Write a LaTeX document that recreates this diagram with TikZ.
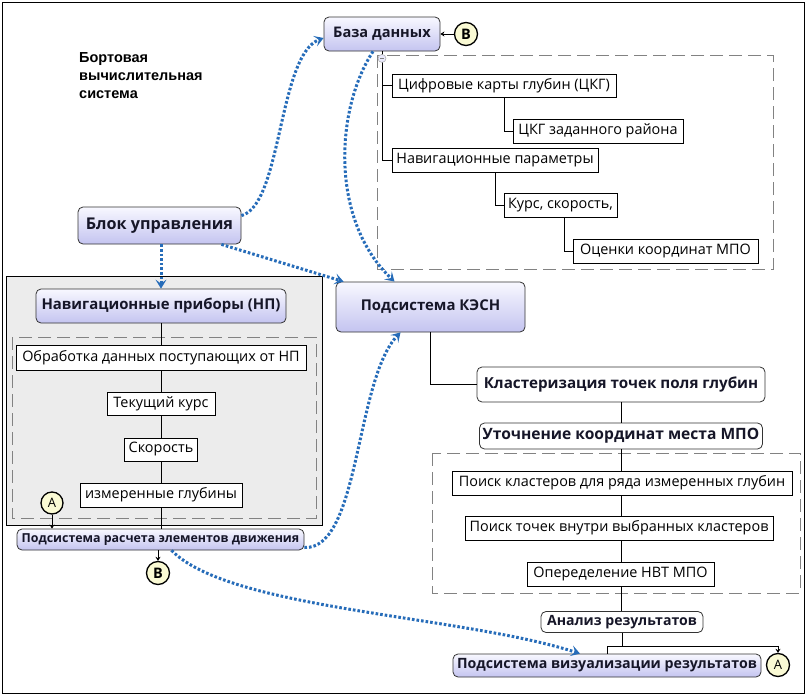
\documentclass[tikz,border=0pt]{standalone}
\usepackage{fontspec}
\setmainfont{Open Sans}
\newfontfamily\labfont{Liberation Sans}
\usetikzlibrary{arrows.meta,calc}
\definecolor{dotblue}{RGB}{38,108,185}
\definecolor{gradtop}{RGB}{248,248,255}
\definecolor{gradbot}{RGB}{196,196,240}
\definecolor{panelgrey}{RGB}{236,236,236}
\definecolor{circfill}{RGB}{250,250,212}
\definecolor{dashgrey}{RGB}{130,130,130}
\definecolor{headtxt}{RGB}{22,22,40}
\newcommand{\leaffont}{\fontsize{14.4}{16}\selectfont}
\begin{document}
\begin{tikzpicture}[x=1pt,y=-1pt,
  leaf/.style={draw=black, line width=0.7pt, fill=white, inner sep=0pt, font=\leaffont},
  hf/.style={font=\bfseries\fontsize{#1}{17}\selectfont},
  head/.style={draw=black!80, line width=0.8pt, rounded corners=5pt, top color=gradtop, bottom color=gradbot, inner sep=0pt, hf=15, text=headtxt},
  whead/.style={draw=black!80, line width=0.8pt, rounded corners=5pt, fill=white, inner sep=0pt, hf=15, text=headtxt},
  circ/.style={circle, draw=black, line width=1.3pt, fill=circfill, minimum size=23pt, inner sep=0pt},
  dotarrow/.style={draw=dotblue, line width=3pt, dash pattern=on 2.6pt off 2pt, -{Stealth[length=9pt,width=11pt,inset=4pt]}},
  tree/.style={draw=black, line width=0.7pt},
  dashbox/.style={draw=dashgrey, line width=0.8pt, dash pattern=on 13pt off 6pt},
  smallarrow/.style={draw=black, line width=0.8pt, -{Stealth[length=4pt,width=5pt]}}
]
\useasboundingbox (0,0) rectangle (807,696);
\fill[white] (0,0) rectangle (807,696);
% outer frame
\draw[line width=1pt] (2,2) rectangle (804,693);
% containers
\draw[line width=0.9pt, fill=panelgrey] (6,276) rectangle (322,525);
\draw[dashbox] (12,337) rectangle (316,518);
\draw[dashbox] (377,55) rectangle (773,269);
\draw[dashbox] (432,453) rectangle (800,593);

% title text
\node[anchor=north west, inner sep=0pt, align=left, font=\labfont\bfseries\fontsize{14.5}{18}\selectfont] (title) at (79,52) {Бортовая\\вычислительная\\система};

% database part
\node[head, hf=14.6, minimum width=116pt, minimum height=34pt] (db) at (382,34) {База данных};
\node[circ, font=\bfseries\fontsize{14.5}{15}\selectfont] (bTop) at (466,34) {B};
\node[leaf, minimum width=224pt, minimum height=23pt] (cfk) at (504,85.5) {Цифровые карты глубин (ЦКГ)};
\node[leaf, minimum width=170pt, minimum height=24pt] (cfkr) at (598,131) {ЦКГ заданного района};
\node[leaf, minimum width=206pt, minimum height=24pt] (nav) at (495,160) {Навигационные параметры};
\node[leaf, minimum width=113pt, minimum height=24pt] (kurs) at (560.5,205) {Курс, скорость,};
\node[leaf, minimum width=185pt, minimum height=24pt] (ocen) at (665.5,251) {Оценки координат МПО};

% control block
\node[head, hf=16.2, minimum width=163pt, minimum height=37pt] (blok) at (159.5,225.5) {Блок управления};

% left panel
\node[head, hf=14.9, minimum width=250pt, minimum height=34pt] (np) at (161,306) {Навигационные приборы (НП)};
\node[leaf, minimum width=290pt, minimum height=25pt] (obr) at (161,357.5) {Обработка данных поступающих от НП};
\node[leaf, minimum width=108pt, minimum height=23pt] (tek) at (161,403.5) {Текущий курс};
\node[leaf, minimum width=73pt, minimum height=23pt] (skor) at (161,449.5) {Скорость};
\node[leaf, minimum width=162pt, minimum height=24pt] (izm) at (161,495) {измеренные глубины};
\node[head, hf=12.4, minimum width=287pt, minimum height=21pt] (rasch) at (160.5,539.5) {Подсистема расчета элементов движения};
\node[circ, minimum size=22pt, font=\fontsize{13}{14}\selectfont] (aLeft) at (52,503) {A};
\node[circ, font=\bfseries\fontsize{14.5}{15}\selectfont] (bBot) at (158,573) {B};

% KESN part
\node[head, hf=14.9, minimum width=189pt, minimum height=50pt] (kesn) at (430.5,307) {Подсистема КЭСН};
\node[whead, hf=15.2, minimum width=288pt, minimum height=35pt] (klast) at (621,384.5) {Кластеризация точек поля глубин};
\node[whead, hf=15.6, minimum width=283pt, minimum height=26pt] (utoch) at (621,436) {Уточнение координат места МПО};
\node[leaf, minimum width=340pt, minimum height=24pt] (poiskA) at (622,483) {Поиск кластеров для ряда измеренных глубин};
\node[leaf, minimum width=308pt, minimum height=24pt] (poiskB) at (619,528) {Поиск точек внутри выбранных кластеров};
\node[leaf, minimum width=187pt, minimum height=24pt] (opred) at (620.5,574) {Опеределение НВТ МПО};
\node[whead, hf=14.1, minimum width=162pt, minimum height=21pt] (analiz) at (622,622) {Анализ результатов};
\node[head, hf=14.2, minimum width=308pt, minimum height=23pt] (viz) at (607,665.5) {Подсистема визуализации результатов};
\node[circ, font=\fontsize{13}{14}\selectfont] (aRight) at (778,665) {A};

% collapse button under database
\draw[tree] (db.south) -- (db.south |- nav.west) -- (nav.west);
\draw[tree] (db.south |- cfk.west) -- (cfk.west);
\draw[draw=gray!70, fill=gray!25!blue!10, line width=0.5pt] ($(db.south)+(0,7)$) circle (4pt);
\draw[draw=gray, line width=0.6pt] ($(db.south)+(-2,7)$) -- ($(db.south)+(2,7)$);

% tree connectors, database
\draw[tree] (cfk.south) |- (cfkr.west);
\draw[tree] (nav.south) |- (kurs.west);
\draw[tree] ([xshift=3.5pt]kurs.south) |- (ocen.west);

% left chain
\draw[tree] (np.south) -- (obr.north);
\draw[tree] (obr.south) -- (tek.north);
\draw[tree] (tek.south) -- (skor.north);
\draw[tree] (skor.south) -- (izm.north);
\draw[tree] (izm.south) -- (izm.south |- rasch.north);

% KESN chain
\draw[tree] (kesn.south) |- (klast.west);
\draw[tree] (klast.south) -- (klast.south |- utoch.north);
\draw[tree] (utoch.south) -- (utoch.south |- poiskA.north);
\draw[tree] (poiskA.south -| utoch.south) -- (utoch.south |- poiskB.north);
\draw[tree] (poiskB.south -| utoch.south) -- (utoch.south |- opred.north);
\draw[tree] (opred.south -| utoch.south) -- (utoch.south |- analiz.north);
\coordinate (jn) at ($(analiz.south)+(0,13)$);
\draw[tree] (analiz.south) -- (jn);
\draw[tree] (viz.north) -- (viz.north |- jn) -- (aRight.north |- jn);
\draw[smallarrow] (aRight.north |- jn) -- (aRight.north);

% small black arrows
\draw[smallarrow] (bTop.west) -- (db.east);
\draw[smallarrow] (aLeft.south) -- (aLeft.south |- rasch.north);
\draw[smallarrow] (bBot.north |- rasch.south) -- (bBot.north);

% blue dotted arrows
\draw[dotarrow] ([yshift=-9pt]blok.north east) .. controls (282,205) and (278,55) .. ([yshift=-4pt]db.west);
\draw[dotarrow] ([xshift=-9pt]db.south) .. controls (335,110) and (330,220) .. ([xshift=-36pt]kesn.north);
\draw[dotarrow] ([xshift=-20pt]blok.south east) -- ([xshift=8pt]kesn.north west);
\draw[dotarrow] (blok.south -| np.north) -- (np.north);
\draw[dotarrow] ([yshift=-8pt]rasch.east) .. controls (360,550) and (355,380) .. ([xshift=-30pt]kesn.south);
\draw[dotarrow] ([xshift=11pt]rasch.south) .. controls (230,610) and (460,615) .. ([xshift=-27pt]viz.north);
\end{tikzpicture}
\end{document}
